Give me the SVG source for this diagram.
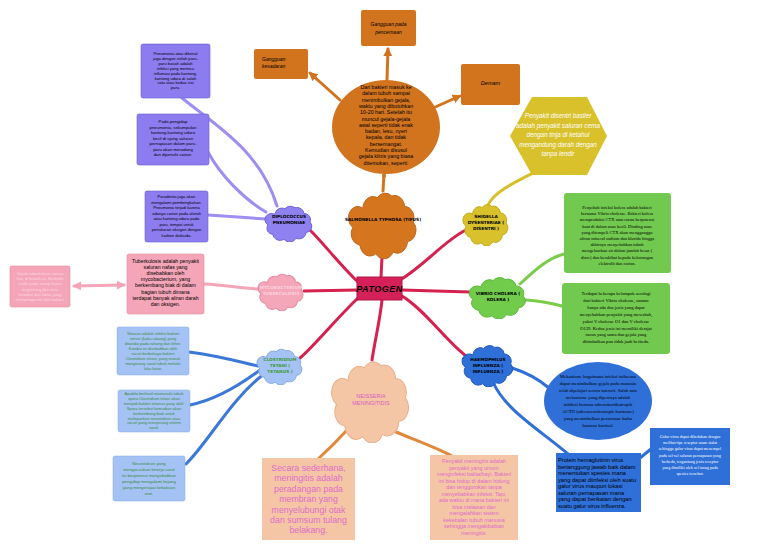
<svg xmlns="http://www.w3.org/2000/svg" width="768" height="553" viewBox="0 0 768 553">
<style>
.t{font-family:"Liberation Sans",Arial,sans-serif;text-anchor:middle}
.s{font-family:"Liberation Serif","Times New Roman",serif;text-anchor:middle}
.cl{font-family:"DejaVu Sans",sans-serif;font-weight:bold;text-anchor:middle;font-size:4.3px}
.ln{fill:none;stroke-width:3;stroke-linecap:round}
</style>
<defs>
<symbol id="cloud" viewBox="0 0 100 80" preserveAspectRatio="none">
<path vector-effect="non-scaling-stroke" d="M22 22 A14 14 0 0 1 42 10 A14 14 0 0 1 62 8 A14 14 0 0 1 80 20 A13 13 0 0 1 92 38 A13 13 0 0 1 84 60 A14 14 0 0 1 64 72 A14 14 0 0 1 40 74 A14 14 0 0 1 18 64 A13 13 0 0 1 8 44 A13 13 0 0 1 22 22 Z"/>
</symbol>
<marker id="ao" viewBox="0 0 10 10" refX="8" refY="5" markerWidth="3" markerHeight="3" orient="auto"><path d="M0 0 L10 5 L0 10 Z" fill="#d2731e"/></marker>
<marker id="ap" viewBox="0 0 10 10" refX="8" refY="5" markerWidth="3" markerHeight="3" orient="auto-start-reverse"><path d="M0 0 L10 5 L0 10 Z" fill="#f4a6b8"/></marker>
</defs>
<rect width="768" height="553" fill="#ffffff"/>

<g id="connectors">
<!-- orange -->
<path class="ln" stroke="#d2731e" marker-end="url(#ao)" d="M340 100 L310 73"/>
<path class="ln" stroke="#d2731e" marker-end="url(#ao)" d="M387 80 L388 49"/>
<path class="ln" stroke="#d2731e" marker-end="url(#ao)" d="M433 108 L460 96"/>
<path class="ln" stroke="#d2731e" d="M384 174 L383 191"/>
<circle cx="384" cy="176" r="2" fill="#d2731e"/>
<!-- red -->
<g stroke="#d6204e">
<path class="ln" d="M381 277 L382 257"/>
<path class="ln" d="M400 280 C425 265 445 240 466 230"/>
<path class="ln" d="M402 290 L470 292"/>
<path class="ln" d="M402 296 C425 310 445 340 466 356"/>
<path class="ln" d="M382 300 C380 320 375 340 372 360"/>
<path class="ln" d="M358 298 C335 320 315 345 300 358"/>
<path class="ln" d="M357 290 L304 291"/>
<path class="ln" d="M358 282 C340 265 325 245 310 230"/>
</g>
<!-- purple -->
<g stroke="#9d8ff2">
<path class="ln" d="M182 98 C215 125 260 150 277 206"/>
<path class="ln" d="M208 152 C220 175 245 200 266 212"/>
<path class="ln" d="M208 215 L266 219"/>
</g>
<!-- pink -->
<path class="ln" stroke="#f4a6b8" d="M204 284 C225 285 240 288 258 289"/>
<path class="ln" stroke="#f4a6b8" marker-start="url(#ap)" marker-end="url(#ap)" d="M74 286 L124 285"/>
<!-- clostridium -->
<g stroke="#3b78d8">
<path class="ln" d="M189 352 C220 356 240 362 258 366"/>
<path class="ln" d="M190 405 C215 400 240 385 260 370"/>
<path class="ln" d="M186 464 C210 440 230 400 264 374"/>
</g>
<!-- green -->
<path class="ln" stroke="#7ccc4c" d="M520 284 C535 270 548 258 564 254"/>
<path class="ln" stroke="#7ccc4c" d="M526 300 C540 301 550 303 562 306"/>
<!-- yellow -->
<path class="ln" stroke="#d8c02a" d="M488 205 C495 190 520 180 545 167"/>
<!-- haemophilus -->
<g stroke="#2e6fd8">
<path class="ln" d="M512 368 C525 372 537 378 549 388"/>
<path class="ln" d="M493 382 C505 410 540 430 568 454"/>
<path class="ln" d="M640 458 L651 449"/>
</g>
<!-- meningitis -->
<path class="ln" stroke="#e0883c" stroke-width="2.5" d="M347 430 C338 440 328 450 318 459"/>
<path class="ln" stroke="#e0883c" stroke-width="2.5" d="M396 432 C415 440 435 447 452 456"/>
</g>

<g id="orange-circle">
<ellipse cx="386" cy="127" rx="54" ry="47" fill="#d2731e"/>
<g class="t" font-size="5.3" fill="#000">
<text x="386" y="89">Dari bakteri masuk ke</text>
<text x="386" y="95.3">dalam tubuh sampai</text>
<text x="386" y="101.6">menimbulkan gejala,</text>
<text x="386" y="107.9">waktu yang dibutuhkan</text>
<text x="386" y="114.2">10-20 hari. Setelah itu</text>
<text x="386" y="120.5">muncul gejala-gejala</text>
<text x="386" y="126.8">awal seperti tidak enak</text>
<text x="386" y="133.1">badan, lesu, nyeri</text>
<text x="386" y="139.4">kepala, dan tidak</text>
<text x="386" y="145.7">bersemangat.</text>
<text x="386" y="152">Kemudian disusul</text>
<text x="386" y="158.3">gejala klinis yang biasa</text>
<text x="386" y="164.6">ditemukan, seperti:</text>
</g>
</g>
<g id="box-pencernaan">
<rect x="361" y="10" width="55" height="36" rx="2" fill="#d2731e"/>
<text class="t" font-size="5" font-style="italic" x="388.5" y="26">Gangguan pada</text>
<text class="t" font-size="5" font-style="italic" x="388.5" y="34">pencernaan</text>
</g>
<g id="box-kesadaran">
<rect x="254" y="49" width="54" height="30" rx="2" fill="#d2731e"/>
<text font-family="Liberation Sans,sans-serif" font-size="5" font-style="italic" x="262" y="61">Gangguan</text>
<text font-family="Liberation Sans,sans-serif" font-size="5" font-style="italic" x="262" y="68">kesadaran</text>
</g>
<g id="box-demam">
<rect x="461" y="64" width="59" height="41" rx="2" fill="#d2731e"/>
<text class="t" font-size="5.5" font-style="italic" x="490.5" y="85">Demam</text>
</g>

<g id="salmonella">
<use href="#cloud" x="347" y="189" width="72" height="70" fill="#d5761f" stroke="#c0651a"/>
<text class="cl" x="383" y="221">SALMONELLA TYPHOSA (TIFUS)</text>
</g>

<g id="patogen">
<rect x="357" y="277" width="45" height="23" fill="#d6205a" stroke="#b01845"/>
<text class="t" x="379.5" y="292" font-size="9" font-weight="bold" font-style="italic" letter-spacing="0.5">PATOGEN</text>
</g>

<g id="shigella">
<use href="#cloud" x="462" y="202" width="48" height="44" fill="#d8c12b" stroke="#c2ab20"/>
<text class="cl" x="486" y="218">SHIGELLA</text>
<text class="cl" x="486" y="224">DYSENTERIAE (</text>
<text class="cl" x="486" y="230">DISENTRI )</text>
</g>
<g id="hexagon">
<polygon points="532,97 587,97 607,136 587,175 532,175 510,136" fill="#d8c12b"/>
<g class="t" font-size="6.3" font-style="italic" fill="#ffffff">
<text x="558" y="118">Penyakit disentri basiler</text>
<text x="558" y="127.5">adalah penyakit saluran cerna</text>
<text x="558" y="137">dengan tinja di ketahui</text>
<text x="558" y="146.5">mengandung darah dengan</text>
<text x="558" y="156">tanpa lendir</text>
</g>
</g>

<g id="vibrio">
<use href="#cloud" x="468" y="275" width="60" height="44" fill="#72cc4b" stroke="#5db63a"/>
<text class="cl" x="498" y="295">VIBRIO CHOLERA (</text>
<text class="cl" x="498" y="301">KOLERA )</text>
</g>
<g id="green-box-1">
<rect x="564" y="193" width="107" height="80" rx="3" fill="#72c94f"/>
<g class="s" font-size="4.5" fill="#000">
<text x="617" y="209">Penyebab infeksi kolera adalah bakteri</text>
<text x="617" y="215.2">bernama Vibrio cholerae. Bakteri kolera</text>
<text x="617" y="221.4">memproduksi CTX atau racun berpotensi</text>
<text x="617" y="227.6">kuat di dalam usus kecil. Dinding usus</text>
<text x="617" y="233.8">yang ditempeli CTX akan mengganggu</text>
<text x="617" y="240">aliran mineral sodium dan klorida hingga</text>
<text x="617" y="246.2">akhirnya menyebabkan tubuh</text>
<text x="617" y="252.4">mengeluarkan air dalam jumlah besar (</text>
<text x="617" y="258.6">diare) dan berakibat kepada kekurangan</text>
<text x="617" y="264.8">elektrolit dan cairan.</text>
</g>
</g>
<g id="green-box-2">
<rect x="562" y="283" width="108" height="71" rx="3" fill="#72c94f"/>
<g class="s" font-size="4.6" fill="#000">
<text x="616" y="295">Terdapat beberapa kelompok serologi</text>
<text x="616" y="301.9">dari bakteri Vibrio cholerae, namun</text>
<text x="616" y="308.8">hanya ada dua jenis yang dapat</text>
<text x="616" y="315.7">menyebabkan penyakit yang mewabah,</text>
<text x="616" y="322.6">yakni V cholerae O1 dan V cholerae</text>
<text x="616" y="329.5">O139. Kedua jenis ini memiliki derajat</text>
<text x="616" y="336.4">racun yang sama dan gejala yang</text>
<text x="616" y="343.3">ditimbulkan pun tidak jauh berbeda.</text>
</g>
</g>

<g id="haemophilus">
<use href="#cloud" x="461" y="343" width="54" height="44" fill="#2e6fd8" stroke="#2259b8"/>
<text class="cl" x="488" y="361">HAEMOPHILUS</text>
<text class="cl" x="488" y="367">INFLUENZA (</text>
<text class="cl" x="488" y="373">INFLUENZA )</text>
</g>
<g id="ellipse-influenza">
<ellipse cx="598" cy="401" rx="54" ry="39" fill="#2e6fd8"/>
<g class="s" font-size="4.7" fill="#000">
<text x="598" y="378">Mekanisme bagaimana infeksi influenza</text>
<text x="598" y="385">dapat menimbulkan gejala pada manusia</text>
<text x="598" y="392">telah dipelajari secara intensif. Salah satu</text>
<text x="598" y="399">mekanisme yang dipercaya adalah</text>
<text x="598" y="406">inhibisi hormon adrenokortikotropik</text>
<text x="598" y="413">ACTH (adrenocorticotropic hormone)</text>
<text x="598" y="420">yang menimbulkan penurunan kadar</text>
<text x="598" y="427">hormon kortisol.</text>
</g>
</g>
<g id="box-protein">
<rect x="556" y="453" width="85" height="59" fill="#2e6fd8"/>
<g font-family="Liberation Sans,Arial,sans-serif" font-size="5.7" fill="#000">
<text x="558" y="462">Protein hemaglutinin virus</text>
<text x="558" y="468.5">bertanggung jawab baik dalam</text>
<text x="558" y="475">menentukan spesies mana</text>
<text x="558" y="481.5">yang dapat diinfeksi oleh suatu</text>
<text x="558" y="488">galur virus maupun lokasi</text>
<text x="558" y="494.5">saluran pernapasan mana</text>
<text x="558" y="501">yang dapat berikatan dengan</text>
<text x="558" y="507.5">suatu galur virus influenza.</text>
</g>
</g>
<g id="box-sialat">
<rect x="650" y="428" width="80" height="57" fill="#2e6fd8"/>
<g class="s" font-size="4.2" fill="#ffffff">
<text x="690" y="438">Galur virus dapat dibedakan dengan</text>
<text x="690" y="444.2">melihat tipe reseptor asam sialat</text>
<text x="690" y="450.4">sehingga galur virus dapat menempel</text>
<text x="690" y="456.6">pada sel-sel saluran pernapasan yang</text>
<text x="690" y="462.8">berbeda, tergantung jenis reseptor</text>
<text x="690" y="469">yang dimiliki oleh sel inang pada</text>
<text x="690" y="475.2">spesies tersebut.</text>
</g>
</g>

<g id="neisseria">
<use href="#cloud" x="330" y="357" width="82" height="86" fill="#f5c6a6" stroke="#e9ae88"/>
<text class="t" font-size="5.5" fill="#d65cc0" x="371" y="398">NEISSERIA</text>
<text class="t" font-size="5.5" fill="#d65cc0" x="371" y="405">MENINGITIDIS</text>
</g>
<g id="box-meningitis-1">
<rect x="262" y="458" width="93" height="82" fill="#f5c6a6"/>
<g class="t" font-size="8.8" fill="#e06cc8">
<text x="308.5" y="471">Secara sederhana,</text>
<text x="308.5" y="481.4">meningitis adalah</text>
<text x="308.5" y="491.8">peradangan pada</text>
<text x="308.5" y="502.2">membran yang</text>
<text x="308.5" y="512.6">menyelubungi otak</text>
<text x="308.5" y="523">dan sumsum tulang</text>
<text x="308.5" y="533.4">belakang.</text>
</g>
</g>
<g id="box-meningitis-2">
<rect x="430" y="455" width="88" height="85" fill="#f5c6a6"/>
<g class="t" font-size="5.4" fill="#e06cc8">
<text x="474" y="463">Penyakit meningitis adalah</text>
<text x="474" y="469.5">penyakit yang umum</text>
<text x="474" y="476">menginfeksi balita/bayi. Bakteri</text>
<text x="474" y="482.5">ini bisa hidup di dalam hidung</text>
<text x="474" y="489">dan tenggorokan tanpa</text>
<text x="474" y="495.5">menyebabkan infeksi. Tapi,</text>
<text x="474" y="502">ada waktu di mana bakteri ini</text>
<text x="474" y="508.5">bisa melawan dan</text>
<text x="474" y="515">mengalahkan sistem</text>
<text x="474" y="521.5">kekebalan tubuh manusia</text>
<text x="474" y="528">sehingga mengakibatkan</text>
<text x="474" y="534.5">meningitis.</text>
</g>
</g>

<g id="clostridium">
<use href="#cloud" x="256" y="347" width="48" height="38" fill="#a4c2f4" stroke="#86a9e6"/>
<text class="cl" fill="#3d9a3d" x="280" y="361">CLOSTRIDIUM</text>
<text class="cl" fill="#3d9a3d" x="280" y="367">TETANI (</text>
<text class="cl" fill="#3d9a3d" x="280" y="373">TETANUS )</text>
</g>
<g id="lb-box-1">
<rect x="117" y="327" width="72" height="48" rx="2" fill="#a4c2f4" stroke="#86a9e6" stroke-width="0.5"/>
<g class="t" font-size="4" fill="#3c8c3c">
<text x="153" y="335">Tetanus adalah infeksi bakteri</text>
<text x="153" y="340">serius (kaku rahang) yang</text>
<text x="153" y="345">ditandai pada rahang dan leher.</text>
<text x="153" y="350">Kondisi ini disebabkan oleh</text>
<text x="153" y="355">racun berbahaya bakteri</text>
<text x="153" y="360">Clostridium tetani, yang masuk</text>
<text x="153" y="365">menyerang saraf tubuh melalui</text>
<text x="153" y="370">luka kotor.</text>
</g>
</g>
<g id="lb-box-2">
<rect x="118" y="390" width="72" height="42" rx="2" fill="#a4c2f4" stroke="#86a9e6" stroke-width="0.5"/>
<g class="t" font-size="4" fill="#3c8c3c">
<text x="154" y="395">Apabila berhasil memasuki tubuh</text>
<text x="154" y="399.9">spora Clostridium tetani akan</text>
<text x="154" y="404.8">menjadi bakteri tetanus yang aktif.</text>
<text x="154" y="409.7">Spora tersebut kemudian akan</text>
<text x="154" y="414.6">berkembang biak untuk</text>
<text x="154" y="419.5">melepaskan neurotoksin atau</text>
<text x="154" y="424.4">racun yang menyerang sistem</text>
<text x="154" y="429.3">saraf.</text>
</g>
</g>
<g id="lb-box-3">
<rect x="113" y="456" width="72" height="45" rx="2" fill="#a4c2f4" stroke="#86a9e6" stroke-width="0.5"/>
<g class="t" font-size="4.3" fill="#3c8c3c">
<text x="149" y="465">Neurotoksin yang</text>
<text x="149" y="471">mengacaukan kinerja saraf</text>
<text x="149" y="477">itu berpotensi menyebabkan</text>
<text x="149" y="483">pengidap mengalami kejang</text>
<text x="149" y="489">yang menyerupai kekakuan</text>
<text x="149" y="495">otot.</text>
</g>
</g>

<g id="mycobacterium">
<use href="#cloud" x="257" y="272" width="48" height="39" fill="#f4a7b9" stroke="#e58aa0"/>
<text class="cl" fill="#fbd0dc" x="281" y="289">MYCOBACTERIUM</text>
<text class="cl" fill="#fbd0dc" x="281" y="295">TUBERCULOSIS</text>
</g>
<g id="pink-box-1">
<rect x="127" y="254" width="77" height="60" rx="2" fill="#f4a6b8" stroke="#e58aa0" stroke-width="0.6"/>
<g class="t" font-size="5.2" fill="#000">
<text x="165.5" y="263">Tuberkulosis adalah penyakit</text>
<text x="165.5" y="269.1">saluran nafas yang</text>
<text x="165.5" y="275.2">disebabkan oleh</text>
<text x="165.5" y="281.3">mycobacterium, yang</text>
<text x="165.5" y="287.4">berkembang biak di dalam</text>
<text x="165.5" y="293.5">bagian tubuh dimana</text>
<text x="165.5" y="299.6">terdapat banyak aliran darah</text>
<text x="165.5" y="305.7">dan oksigen.</text>
</g>
</g>
<g id="pink-box-2">
<rect x="10" y="266" width="60" height="41" rx="2" fill="#f4a6b8" stroke="#e58aa0" stroke-width="0.6"/>
<g class="t" font-size="4" fill="#fcd6df">
<text x="40" y="275">Gejala tuberkulosis antara</text>
<text x="40" y="280.2">lain, di bawah ini. Berbeda</text>
<text x="40" y="285.4">tanda pada setiap kasus</text>
<text x="40" y="290.6">tergantung dari area</text>
<text x="40" y="295.8">tersebut dan faktor yang</text>
<text x="40" y="301">mempengaruhi sifat bakteri.</text>
</g>
</g>

<g id="diplococcus">
<use href="#cloud" x="264" y="204" width="50" height="38" fill="#8f82f0" stroke="#6f60d8"/>
<text class="cl" x="289" y="218">DIPLOCOCCUS</text>
<text class="cl" x="289" y="224">PNEUMONIAE</text>
</g>
<g id="purple-box-1">
<rect x="141" y="44" width="69" height="54" rx="2" fill="#8c7cf0" stroke="#6a5acd" stroke-width="0.6"/>
<g class="t" font-size="4.1" fill="#000">
<text x="175.5" y="55">Pneumonia atau dikenal</text>
<text x="175.5" y="59.9">juga dengan istilah paru-</text>
<text x="175.5" y="64.8">paru basah adalah</text>
<text x="175.5" y="69.7">infeksi yang memicu</text>
<text x="175.5" y="74.6">inflamasi pada kantong-</text>
<text x="175.5" y="79.5">kantong udara di salah</text>
<text x="175.5" y="84.4">satu atau kedua sisi</text>
<text x="175.5" y="89.3">paru.</text>
</g>
</g>
<g id="purple-box-2">
<rect x="137" y="114" width="72" height="51" rx="2" fill="#8c7cf0" stroke="#6a5acd" stroke-width="0.6"/>
<g class="t" font-size="4.3" fill="#000">
<text x="173" y="123">Pada pengidap</text>
<text x="173" y="128.5">pneumonia, sekumpulan</text>
<text x="173" y="134">kantong-kantong udara</text>
<text x="173" y="139.5">kecil di ujung saluran</text>
<text x="173" y="145">pernapasan dalam paru-</text>
<text x="173" y="150.5">paru akan meradang</text>
<text x="173" y="156">dan dipenuhi cairan.</text>
</g>
</g>
<g id="purple-box-3">
<rect x="145" y="191" width="63" height="51" rx="2" fill="#8c7cf0" stroke="#6a5acd" stroke-width="0.6"/>
<g class="t" font-size="4.1" fill="#000">
<text x="176.5" y="198">Paradenta juga akan</text>
<text x="176.5" y="203.5">mengalami pembengkakan.</text>
<text x="176.5" y="209">Pneumonia terjadi karena</text>
<text x="176.5" y="214.5">adanya cairan pada alveoli</text>
<text x="176.5" y="220">atau kantong udara pada</text>
<text x="176.5" y="225.5">paru, tempat untuk</text>
<text x="176.5" y="231">pertukaran oksigen dengan</text>
<text x="176.5" y="236.5">karbon dioksida.</text>
</g>
</g>
</svg>
